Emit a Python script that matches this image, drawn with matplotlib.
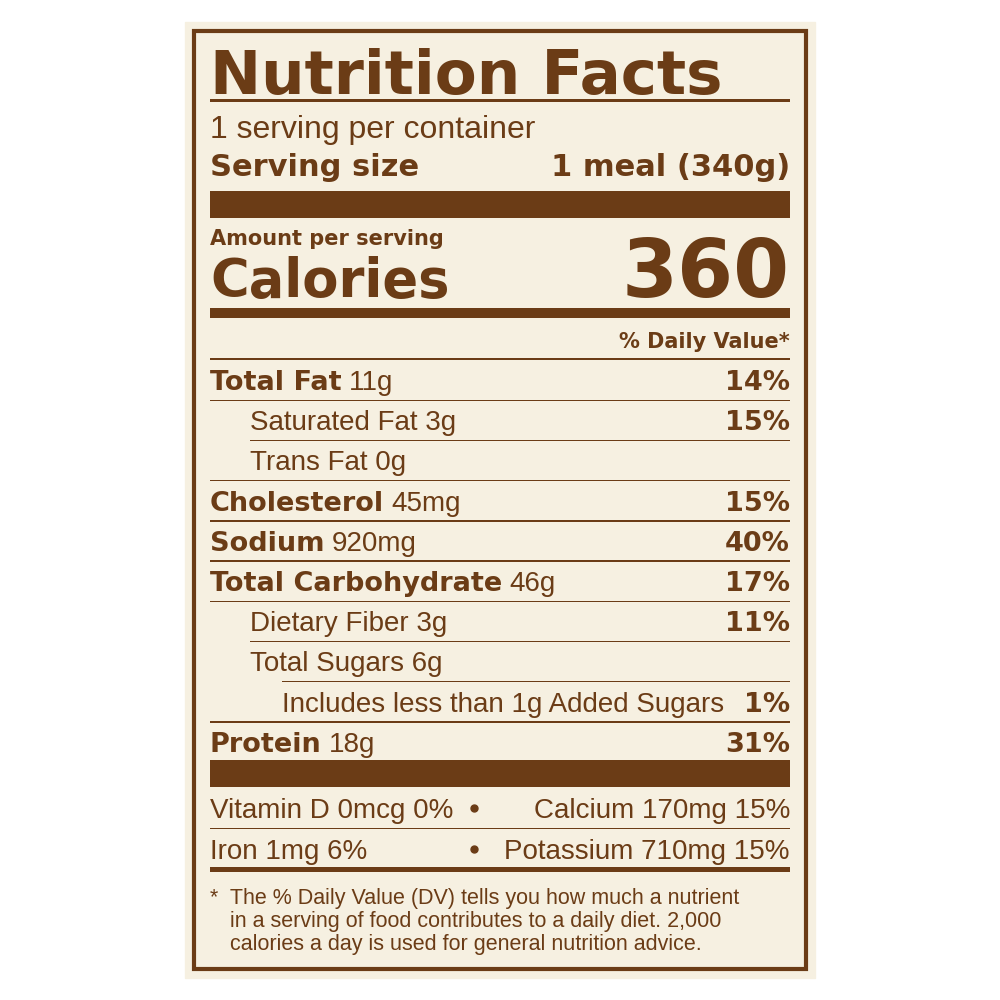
import matplotlib.pyplot as plt
from matplotlib.patches import Rectangle

BROWN = "#6b3c16"
CREAM = "#f6f0e1"
FONT = "Liberation Sans"
BOLD = "DejaVu Sans"

# label data
servings = "1 serving per container"
serving_size = "1 meal (340g)"
calories = "360"
nutrients = ["Total Fat", "Saturated Fat", "Trans Fat", "Cholesterol", "Sodium",
             "Total Carbohydrate", "Dietary Fiber", "Total Sugars",
             "Includes less than 1g Added Sugars", "Protein"]
amounts = ["11g", "3g", "0g", "45mg", "920mg", "46g", "3g", "6g", "", "18g"]
daily_pct = ["14%", "15%", "", "15%", "40%", "17%", "11%", "", "1%", "31%"]
indent = [0, 1, 1, 0, 0, 0, 1, 1, 2, 0]
minerals_left = ["Vitamin D 0mcg 0%", "Iron 1mg 6%"]
minerals_right = ["Calcium 170mg 15%", "Potassium 710mg 15%"]
footnote = ["*  The % Daily Value (DV) tells you how much a nutrient",
            "in a serving of food contributes to a daily diet. 2,000",
            "calories a day is used for general nutrition advice."]

fig = plt.figure(figsize=(10, 10), dpi=100)
ax = fig.add_axes([0, 0, 1, 1])
ax.set_xlim(0, 1000)
ax.set_ylim(1000, 0)
ax.axis("off")
renderer = fig.canvas.get_renderer()

ax.add_patch(Rectangle((185, 22), 630, 956, color=CREAM, zorder=0))
ax.add_patch(Rectangle((194, 31), 612, 938, fill=False, ec=BROWN, lw=3))

L, R = 210, 790


def bar(y0, y1, x0=L):
    ax.add_patch(Rectangle((x0, y0), R - x0, y1 - y0, color=BROWN, lw=0))


def txt(x, y, s, size, bold=False, ha="left"):
    return ax.text(x, y, s, fontsize=size, fontweight="bold" if bold else "normal",
                   color=BROWN, family=BOLD if bold else FONT, ha=ha, va="baseline")


txt(L, 94, "Nutrition Facts", 44, True)
bar(99, 101.5)
txt(L, 138, servings, 23)
txt(L, 176, "Serving size", 22, True)
txt(R, 176, serving_size, 22, True, "right")
bar(191, 218)
txt(L, 245, "Amount per serving", 15, True)
txt(L, 297, "Calories", 38, True)
txt(R, 297, calories, 58, True, "right")
bar(308, 318)
txt(R, 348, "% Daily Value*", 15, True, "right")
bar(358, 359.5)

x_ind = [L, 250, 282]
for i, name in enumerate(nutrients):
    y = 380 + 40.2 * i
    x = x_ind[indent[i]]
    if indent[i] == 0:
        t = txt(x, y + 10, name, 19.5, True)
        w = t.get_window_extent(renderer).x1
        txt(w + 7, y + 10, amounts[i], 20)
    else:
        txt(x, y + 10, (name + " " + amounts[i]).strip(), 20)
    if daily_pct[i]:
        txt(R, y + 10, daily_pct[i], 19.5, True, "right")
    if i < len(nutrients) - 1:
        x0 = 282 if i == 7 else (250 if indent[i + 1] and indent[i] else L)
        bar(y + 19.5, y + 21, x0)

bar(760, 787)
for j in range(2):
    y = 808 + 41 * j
    txt(L, y + 10, minerals_left[j], 20)
    txt(R, y + 10, minerals_right[j], 20, ha="right")
    ax.plot(474, y, "o", color=BROWN, ms=5)
bar(827.5, 829)
bar(867, 872)
for k, line in enumerate(footnote):
    txt(L if k == 0 else 230, 904 + 23 * k, line, 15.5)

fig.savefig("out.png", dpi=100, facecolor="white")
